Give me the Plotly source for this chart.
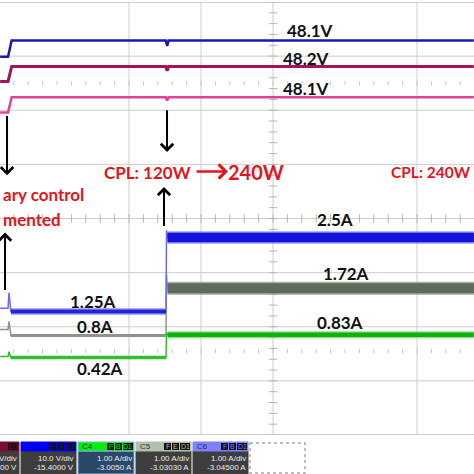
import numpy as np
import plotly.graph_objects as go

# ---------------- data (screen divisions, centre of screen = 0) ----------------
# voltage channels (top traces)
t_v = [-3.79, -3.68, -3.63, -1.49, -1.47, -1.45, 2.79]
v_blue = [2.99, 2.99, 3.29, 3.29, 3.19, 3.29, 3.29]
v_maroon = [2.53, 2.53, 2.81, 2.81, 2.73, 2.81, 2.81]
v_pink = [1.96, 1.96, 2.24, 2.24, 2.18, 2.24, 2.24]

# current channels (bottom traces)
t_i = [-3.79, -3.68, -3.667, -3.64, -1.486, -1.479, -1.465, 2.79]
i_blue = [-1.66, -1.66, -1.37, -1.72, -1.72, -0.22, -0.35, -0.35]
i_gray = [-2.05, -2.05, -1.90, -2.16, -2.16, -1.04, -1.29, -1.29]
i_green = [-2.55, -2.55, -2.46, -2.57, -2.57, -2.11, -2.15, -2.15]

v_labels = ["48.1V", "48.2V", "48.1V"]
i_labels_before = ["1.25A", "0.8A", "0.42A"]
i_labels_after = ["2.5A", "1.72A", "0.83A"]

channels = [
    # header colour, label, badges, volts/div line, offset line
    ("#7d0c34", "", ["D1"], "V/div", "00 V"),
    ("#0000f0", "", ["F", "J", "D1"], "10.0 V/div", "-15.4000 V"),
    ("#00f000", "C4", ["F", "B", "D1"], "1.00 A/div", "-3.0050 A"),
    ("#b4c0ae", "C5", ["F", "E", "D1"], "1.00 A/div", "-3.03030 A"),
    ("#8080ff", "C6", ["F", "B", "D1"], "1.00 A/div", "-3.04500 A"),
]

# ---------------- figure ----------------
W, H = 474, 474
ML, MR, MT, MB = 0, 0, 2, 39
XR = [-273 / 72, 201 / 72]
YR = [-4, 4]

fig = go.Figure()

GRID = "#cdcdcd"
shapes = []
for gy in range(-4, 5):
    shapes.append(dict(type="line", xref="paper", yref="y", x0=0, x1=1, y0=gy, y1=gy,
                       line=dict(color=GRID, width=2 if gy in (-4, 4) else 1), layer="below"))
for gx in [-2, -1, 0, 2]:
    shapes.append(dict(type="line", xref="x", yref="paper", x0=gx, x1=gx, y0=0, y1=1,
                       line=dict(color=GRID, width=1), layer="below"))

# centre-axis minor ticks
TICK = "#b4b4b4"
tx = np.arange(-3.8, 2.81, 0.2)
ty = np.arange(-4, 4.01, 0.2)
fig.add_trace(go.Scatter(x=tx, y=[0] * len(tx), mode="markers", hoverinfo="skip",
                         marker=dict(symbol="line-ns-open", size=6, color=TICK, line=dict(color=TICK, width=1))))
fig.add_trace(go.Scatter(x=[0] * len(ty), y=ty, mode="markers", hoverinfo="skip",
                         marker=dict(symbol="line-ew-open", size=6, color=TICK, line=dict(color=TICK, width=1))))
for ry in (2.5, -2.45):
    fig.add_trace(go.Scatter(x=tx, y=[ry] * len(tx), mode="markers", hoverinfo="skip",
                             marker=dict(symbol="line-ns-open", size=3, color="#c8c8c8",
                                         line=dict(color="#c8c8c8", width=1))))

def line(x, y, color, width):
    fig.add_trace(go.Scatter(x=x, y=y, mode="lines", hoverinfo="skip",
                             line=dict(color=color, width=width)))

# voltage traces
line(t_v, v_blue, "#1818b4", 2.5)
line(t_v, v_maroon, "#a3145a", 3)
line(t_v, v_pink, "#e0409a", 2.5)

# current traces: thin full trace + ripple bands
PRE = slice(3, 5)
POST = slice(6, None)
line(t_i, i_gray, "#8c948a", 1.5)
line(t_i, i_green, "#2ec02e", 1.5)
line(t_i, i_blue, "#6a6aee", 1.5)
line(t_i[PRE], i_gray[PRE], "#8c948a", 3)
line(t_i[PRE], i_green[PRE], "#2ec02e", 3.5)
line(t_i[PRE], i_blue[PRE], "rgba(140,140,255,0.7)", 7)
line(t_i[PRE], i_blue[PRE], "#2424d4", 4)
line(t_i[POST], i_gray[POST], "rgba(140,155,135,0.8)", 13)
line(t_i[POST], i_gray[POST], "#5c6c59", 10)
line(t_i[POST], i_green[POST], "rgba(90,220,90,0.7)", 7)
line(t_i[POST], i_green[POST], "#10b010", 4.5)
line(t_i[POST], i_blue[POST], "rgba(80,80,240,0.8)", 12)
line(t_i[POST], i_blue[POST], "#1212d8", 9)

ann = []
BLACK_FONT = dict(family="Lato, Open Sans, sans-serif", size=17, color="#111111")
RED = "#e3141c"
RED_FONT = dict(family="Lato, Open Sans, sans-serif", size=17, color=RED)

def text(x, y, s, font, xanchor="center"):
    ann.append(dict(x=x, y=y, xref="x", yref="y", text="<b>" + s + "</b>", showarrow=False,
                    font=font, xanchor=xanchor, yanchor="middle"))

for s, (x, y) in zip(v_labels, [(0.514, 3.47), (0.458, 2.95), (0.458, 2.40)]):
    text(x, y, s, BLACK_FONT)
for s, (x, y) in zip(i_labels_before, [(-2.50, -1.53), (-2.47, -1.99), (-2.40, -2.77)]):
    text(x, y, s, BLACK_FONT)
for s, (x, y) in zip(i_labels_after, [(0.861, -0.02), (1.014, -1.02), (0.931, -1.92)]):
    text(x, y, s, BLACK_FONT)

text(-1.75, 0.85, "CPL: 120W", RED_FONT)
text(-0.236, 0.86, "240W", dict(RED_FONT, size=20))
text(1.61, 0.85, "CPL: 240W", dict(RED_FONT, size=15.5), xanchor="left")
text(-2.597, 0.45, "ary control", RED_FONT, xanchor="right")
text(-2.917, -0.01, "mented", RED_FONT, xanchor="right")

def arrow(x, y, ax, ay, color="black", width=2):
    ann.append(dict(x=x, y=y, ax=ax, ay=ay, xref="x", yref="y", axref="x", ayref="y",
                    text="", showarrow=True, arrowhead=4, arrowsize=1.2, arrowwidth=width,
                    arrowcolor=color, standoff=0, startstandoff=0))

arrow(-3.694, 0.80, -3.694, 1.92)
arrow(-1.472, 1.23, -1.472, 2.03)
arrow(-1.514, 0.58, -1.514, -0.166)
arrow(-3.722, -0.26, -3.722, -1.349)
arrow(-0.625, 0.868, -1.083, 0.868, RED, 2.3)

# ---------------- channel descriptor strip ----------------
def px(x):
    return x / W

def py(y):
    return (H - MB - y) / (H - MT - MB)

box_x = [(-6, 19), (21, 76), (78, 134), (136, 191), (193, 248)]
HEAD0, HEAD1, BODY1 = 442, 451, 474
for (x0, x1), (hc, lab, badges, l1, l2) in zip(box_x, channels):
    sel = lab == "C4"
    shapes.append(dict(type="rect", xref="paper", yref="paper", x0=px(x0), x1=px(x1),
                       y0=py(HEAD1), y1=py(BODY1), fillcolor="#2c4866" if sel else "#3e3e3e",
                       line=dict(width=1, color="#7ab4e6" if sel else "#3e3e3e")))
    shapes.append(dict(type="rect", xref="paper", yref="paper", x0=px(x0), x1=px(x1),
                       y0=py(HEAD0), y1=py(HEAD1), fillcolor=hc,
                       line=dict(width=1, color="#7ab4e6" if sel else hc)))
    bx = x1 - 1
    for b in reversed(badges):
        bw = 10 if b == "D1" else 7
        shapes.append(dict(type="rect", xref="paper", yref="paper", x0=px(bx - bw), x1=px(bx),
                           y0=py(HEAD0 + 1), y1=py(HEAD1 - 1), fillcolor="#101010",
                           line=dict(width=0)))
        ann.append(dict(x=px(bx - bw / 2), y=py((HEAD0 + HEAD1) / 2), xref="paper", yref="paper",
                        text=b, showarrow=False, font=dict(family="Liberation Sans", size=7, color=hc),
                        xanchor="center", yanchor="middle"))
        bx -= bw + 1
    if lab:
        ann.append(dict(x=px(x0 + 2), y=py((HEAD0 + HEAD1) / 2), xref="paper", yref="paper",
                        text=lab, showarrow=False, font=dict(family="Liberation Sans", size=8, color="#303030"),
                        xanchor="left", yanchor="middle"))
    for s, yy in ((l1, 458), (l2, 467)):
        ann.append(dict(x=px(x1 - 0.5), y=py(yy), xref="paper", yref="paper", text=s, showarrow=False,
                        font=dict(family="Liberation Sans", size=8, color="#ececec"),
                        xanchor="right", yanchor="middle"))

shapes.append(dict(type="rect", xref="paper", yref="paper", x0=px(250), x1=px(305),
                   y0=py(443), y1=py(473), line=dict(color="#a8a8a8", width=1.5, dash="dot")))

fig.update_layout(
    width=W, height=H, margin=dict(l=ML, r=MR, t=MT, b=MB),
    paper_bgcolor="white", plot_bgcolor="white", showlegend=False,
    xaxis=dict(range=XR, showgrid=False, zeroline=False, showticklabels=False, ticks="", fixedrange=True),
    yaxis=dict(range=YR, showgrid=False, zeroline=False, showticklabels=False, ticks="", fixedrange=True),
    shapes=shapes, annotations=ann,
)

fig.write_html("out.html", config={"displayModeBar": False},
               post_script="document.body.style.margin='0px';document.body.style.padding='0px';")
